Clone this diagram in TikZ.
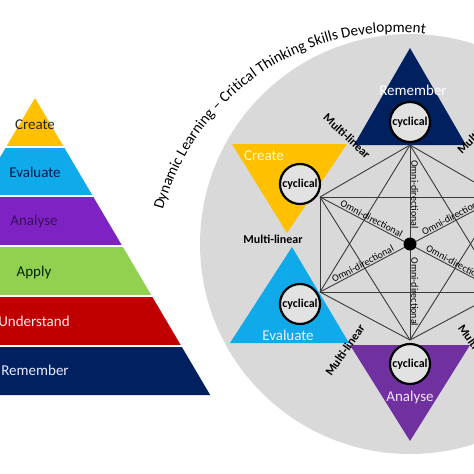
\documentclass[tikz,border=0pt]{standalone}
\usepackage{fontspec}
\setmainfont{Carlito}
\usetikzlibrary{decorations.text,calc}
\definecolor{cCreate}{HTML}{FFC000}
\definecolor{cEval}{HTML}{0FAAEA}
\definecolor{cAnal}{HTML}{7F22C4}
\definecolor{cAnalT}{HTML}{7030A0}
\definecolor{cApply}{HTML}{92D050}
\definecolor{cUnder}{HTML}{C00000}
\definecolor{cRem}{HTML}{002060}
\definecolor{cDisc}{HTML}{D9D9D9}
\definecolor{cCyc}{HTML}{E2E2E2}
\definecolor{cLine}{HTML}{3A3A3A}
\tikzset{
  pyrtext/.style={font=\fontsize{15}{15}\selectfont, inner sep=0pt},
  tritext/.style={font=\fontsize{15}{15}\selectfont, inner sep=0pt},
  cyc/.style={circle, minimum size=40pt, inner sep=0pt, fill=cCyc, draw=black, line width=2.2pt, font=\bfseries\fontsize{12}{12}\selectfont},
  mlin/.style={font=\bfseries\fontsize{12}{12}\selectfont, inner sep=0pt},
  omni/.style={font=\fontsize{10}{10}\selectfont, inner sep=1pt, anchor=south},
  edge/.style={draw=cLine, line width=0.9pt},
  sep/.style={draw=white, line width=1.4pt}
}
\begin{document}
\begin{tikzpicture}[x=1pt,y=-1pt]
\useasboundingbox (0,0) rectangle (474,474);
\clip (0,0) rectangle (474,474);
\fill[white] (0,0) rectangle (474,474);

% pyramid
\fill[cCreate] (35,98) -- (63.9,147) -- (6.1,147) -- cycle;
\fill[cEval] (6.1,147) -- (63.9,147) -- (92.8,196) -- (-22.8,196) -- cycle;
\fill[cAnal] (-22.8,196) -- (92.8,196) -- (122.3,246) -- (-52.3,246) -- cycle;
\fill[cApply] (-52.3,246) -- (122.3,246) -- (151.8,296) -- (-81.8,296) -- cycle;
\fill[cUnder] (-81.8,296) -- (151.8,296) -- (181.3,346) -- (-111.3,346) -- cycle;
\fill[cRem] (-111.3,346) -- (181.3,346) -- (210.2,395) -- (-140.2,395) -- cycle;
\draw[sep] (-10,147) -- (66,147);
\draw[sep] (-10,196) -- (95,196);
\draw[sep] (-10,246) -- (125,246);
\draw[sep] (-10,296) -- (155,296);
\draw[sep] (-10,346) -- (184,346);

\node[pyrtext, text=black!85] (pCreate) at (35,125) {Create};
\node[pyrtext, text=cRem!80!black] (pEval) at (35,172) {Evaluate};
\node[pyrtext, text=cAnal!45!black] (pAnal) at (34,221) {Analyse};
\node[pyrtext, text=black!85!green] (pApply) at (34,272) {Apply};
\node[pyrtext, text=red!8!white] (pUnder) at (34,321) {Understand};
\node[pyrtext, text=white!92!blue] (pRem) at (35,370) {Remember};

% disc
\fill[cDisc] (410,244) circle[radius=210];

% title arc
\path[decorate, decoration={text along path, text align=left,
  text={|\fontsize{15.2}{15.2}\selectfont|Dynamic Learning – Critical Thinking Skills Development}}]
  (163,210) arc[start angle=-164.6, end angle=-78, radius=242];

% triangles
\fill[cRem] (410,48) -- (466,145) -- (354,145) -- cycle;
\fill[cCreate] (232,144) -- (347,144) -- (287,233) -- cycle;
\fill[cEval] (292,247) -- (349,343) -- (230,343) -- cycle;
\fill[cAnalT] (350,345) -- (470,345) -- (410,441) -- cycle;

\node[tritext, text=white] (tRem) at (413,90) {Remember};
\node[tritext, text=yellow!20!white] (tCreate) at (264,156) {Create};
\node[tritext, text=blue!6!white] (tEval) at (288,335) {Evaluate};
\node[tritext, text=violet!10!white] (tAnal) at (410,397) {Analyse};

% hexagon vertices
\coordinate (T) at (410,145);
\coordinate (UL) at (320,197);
\coordinate (LL) at (320,292);
\coordinate (B) at (410,340);
\coordinate (LR) at (500,292);
\coordinate (UR) at (500,197);
\coordinate (C) at (410,244);

% complete graph
\foreach \a/\b in {T/UL,UL/LL,LL/B,B/LR,LR/UR,UR/T,
                   T/LL,LL/LR,LR/T,B/UL,UL/UR,UR/B,
                   T/B,UL/LR,LL/UR}
  \draw[edge] (\a) -- (\b);

% omni labels
\node[omni, rotate=-27.6] (o1) at ($(UL)!0.55!(C)$) {Omni-directional};
\node[omni, rotate=28] (o2) at ($(LL)!0.5!(C)$) {Omni-directional};
\node[omni, rotate=28] (o3) at ($(C)!0.5!(UR)$) {Omni-directional};
\node[omni, rotate=-28] (o4) at ($(C)!0.5!(LR)$) {Omni-directional};
\node[omni, rotate=-90] (o5) at ($(T)!0.5!(C)$) {Omni-directional};
\node[omni, rotate=-90] (o6) at ($(C)!0.5!(B)$) {Omni-directional};

\fill[black] (C) circle[radius=6.5];

% cyclical circles
\node[cyc] (cRemC) at (410,122) {cyclical};
\node[cyc] (cCreC) at (300,184) {cyclical};
\node[cyc] (cEvaC) at (300,304) {cyclical};
\node[cyc] (cAnaC) at (410,364) {cyclical};

% multi-linear labels
\node[mlin, rotate=-43] (m1) at (347,136) {Multi-linear};
\node[mlin] (m2) at (273,239) {Multi-linear};
\node[mlin, rotate=55] (m3) at (345,350) {Multi-linear};
\node[mlin, rotate=45] (m4) at (480,131) {Multi-linear};
\node[mlin, rotate=-55] (m5) at (478,350) {Multi-linear};
\end{tikzpicture}
\end{document}
